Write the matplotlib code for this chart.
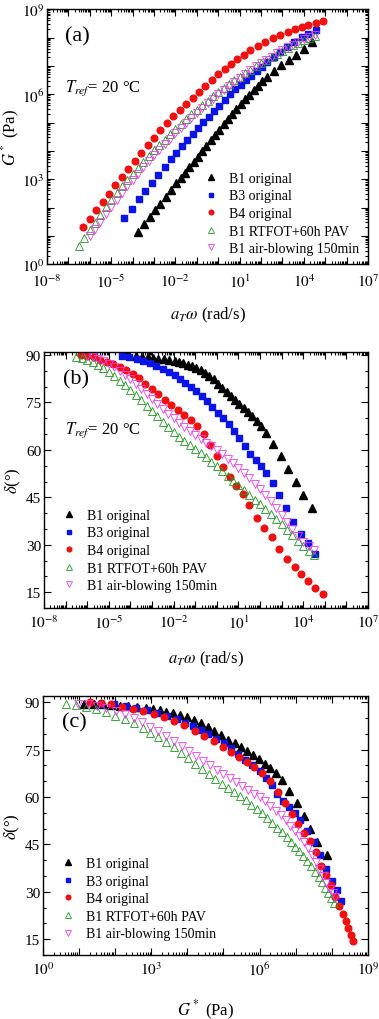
import numpy as np
import matplotlib
matplotlib.use("Agg")
import matplotlib.pyplot as plt
from matplotlib.ticker import LogLocator, FuncFormatter, MultipleLocator, NullFormatter

plt.rcParams["font.family"] = ["Liberation Serif", "DejaVu Serif"]
plt.rcParams["mathtext.fontset"] = "stix"

# data: log10(aT*omega), log10(G*), phase angle delta
b1_logw = [-3.73, -3.45, -3.2, -2.95, -2.7, -2.45, -2.2, -1.95, -1.75, -1.55, -1.35, -1.15,
           -0.95, -0.75, -0.55, -0.35, -0.15, 0.05, 0.25, 0.45, 0.65, 0.85, 1.05, 1.25,
           1.45, 1.65, 1.85, 2.05, 2.3, 2.6, 2.95, 3.3, 3.65, 4.0, 4.4]
b1_logg = [1.15, 1.42, 1.66, 1.90, 2.13, 2.37, 2.61, 2.85, 3.04, 3.23, 3.42, 3.61,
           3.80, 3.99, 4.18, 4.37, 4.56, 4.75, 4.94, 5.13, 5.31, 5.48, 5.65, 5.82,
           5.98, 6.14, 6.30, 6.45, 6.62, 6.82, 7.03, 7.22, 7.40, 7.60, 7.86]
b1_delta = [89.6, 89.5, 89.3, 89.1, 88.9, 88.7, 88.4, 88.1, 87.8, 87.4, 87.0, 86.5,
            85.9, 85.2, 84.4, 83.4, 82.3, 81.0, 79.6, 78.2, 77.0, 75.8, 74.5, 73.2,
            71.9, 70.6, 69.2, 67.6, 65.3, 62.0, 58.0, 54.0, 49.9, 45.8, 41.7]

b3_logw = [-4.4, -4.05, -3.7, -3.4, -3.1, -2.8, -2.5, -2.2, -1.95, -1.7, -1.45, -1.2,
           -0.95, -0.7, -0.45, -0.2, 0.05, 0.3, 0.55, 0.8, 1.05, 1.3, 1.55, 1.8,
           2.05, 2.3, 2.6, 2.9, 3.2, 3.55, 3.9, 4.2, 4.55]
b3_logg = [1.62, 1.96, 2.30, 2.59, 2.88, 3.16, 3.44, 3.72, 3.94, 4.16, 4.37, 4.58,
           4.80, 5.01, 5.21, 5.41, 5.60, 5.80, 6.00, 6.17, 6.33, 6.49, 6.65, 6.81,
           6.97, 7.13, 7.32, 7.50, 7.66, 7.85, 8.01, 8.13, 8.26]
b3_delta = [89.6, 89.3, 88.8, 88.2, 87.4, 86.6, 85.7, 84.6, 83.6, 82.5, 81.2, 79.9,
            78.5, 77.0, 75.4, 73.6, 71.8, 70.0, 68.1, 66.0, 63.7, 61.1, 58.8, 56.8,
            54.9, 52.6, 49.4, 45.8, 41.7, 37.2, 33.4, 30.5, 27.2]

b4_logw = [-6.3, -6.0, -5.7, -5.4, -5.1, -4.8, -4.5, -4.2, -3.9, -3.6, -3.3, -3.0,
           -2.7, -2.4, -2.1, -1.8, -1.5, -1.2, -0.9, -0.6, -0.3, 0.0, 0.3, 0.6,
           0.9, 1.2, 1.5, 1.85, 2.2, 2.55, 2.9, 3.25, 3.6, 3.9, 4.2, 4.55, 4.9]
b4_logg = [1.30, 1.60, 1.90, 2.19, 2.49, 2.78, 3.07, 3.35, 3.63, 3.92, 4.20, 4.47,
           4.73, 4.98, 5.22, 5.44, 5.65, 5.85, 6.07, 6.29, 6.50, 6.70, 6.89, 7.07,
           7.24, 7.40, 7.55, 7.70, 7.84, 7.97, 8.09, 8.20, 8.30, 8.38, 8.45, 8.52, 8.59]
b4_delta = [90.0, 89.8, 89.3, 88.6, 87.9, 87.1, 86.3, 85.2, 84.0, 82.7, 81.0, 79.3,
            77.6, 75.8, 74.2, 72.6, 71.0, 69.5, 67.6, 65.0, 61.5, 58.0, 54.6, 51.4,
            48.6, 46.0, 42.5, 38.3, 35.2, 32.3, 28.5, 25.5, 23.0, 20.8, 18.6, 16.4, 14.4]

rt_logw = [-6.5, -6.25, -6.0, -5.75, -5.5, -5.25, -5.0, -4.75, -4.5, -4.25, -4.0, -3.75,
           -3.5, -3.25, -3.0, -2.75, -2.5, -2.25, -2.0, -1.75, -1.5, -1.25, -1.0, -0.75,
           -0.5, -0.25, 0.0, 0.25, 0.5, 0.75, 1.0, 1.25, 1.5, 1.75, 2.0, 2.25,
           2.5, 2.75, 3.0, 3.25, 3.5, 3.75, 4.0, 4.25, 4.5]
rt_logg = [0.64, 0.92, 1.20, 1.47, 1.74, 2.01, 2.27, 2.52, 2.76, 2.98, 3.20, 3.41,
           3.62, 3.82, 4.02, 4.21, 4.40, 4.59, 4.77, 4.95, 5.12, 5.29, 5.45, 5.61,
           5.77, 5.92, 6.07, 6.21, 6.35, 6.49, 6.62, 6.75, 6.87, 6.99, 7.10, 7.21,
           7.32, 7.43, 7.53, 7.63, 7.72, 7.81, 7.90, 7.98, 8.06]
rt_delta = [89.3, 89.0, 88.5, 87.8, 86.9, 85.8, 84.6, 83.3, 81.9, 80.4, 78.9, 77.3,
            75.7, 74.0, 72.3, 70.6, 68.9, 67.2, 65.6, 64.2, 62.9, 61.6, 60.3, 59.0,
            57.6, 56.2, 54.8, 53.3, 51.8, 50.3, 48.8, 47.3, 45.8, 44.3, 42.8, 41.3,
            39.7, 38.1, 36.4, 34.7, 33.0, 31.3, 29.7, 28.1, 26.6]

ab_logw = [-6.0, -5.75, -5.5, -5.25, -5.0, -4.75, -4.5, -4.25, -4.0, -3.75, -3.5, -3.25,
           -3.0, -2.75, -2.5, -2.25, -2.0, -1.75, -1.5, -1.25, -1.0, -0.75, -0.5, -0.25,
           0.0, 0.25, 0.5, 0.75, 1.0, 1.25, 1.5, 1.75, 2.0, 2.25, 2.5, 2.75,
           3.0, 3.25, 3.5, 3.75, 4.0, 4.25, 4.5]
ab_logg = [0.98, 1.24, 1.50, 1.76, 2.02, 2.27, 2.52, 2.75, 2.98, 3.20, 3.42, 3.63,
           3.84, 4.04, 4.24, 4.43, 4.62, 4.81, 4.99, 5.17, 5.34, 5.51, 5.68, 5.84,
           6.00, 6.15, 6.30, 6.44, 6.58, 6.72, 6.85, 6.98, 7.10, 7.22, 7.33, 7.44,
           7.55, 7.65, 7.75, 7.85, 7.94, 8.02, 8.10]
ab_delta = [89.6, 89.3, 88.8, 88.1, 87.2, 86.2, 85.0, 83.7, 82.3, 80.9, 79.4, 77.8,
            76.2, 74.6, 73.0, 71.5, 70.0, 68.6, 67.2, 65.9, 64.7, 63.5, 62.3, 61.1,
            59.9, 58.6, 57.2, 55.7, 54.2, 52.6, 51.0, 49.3, 47.6, 45.8, 43.8, 41.7,
            39.5, 37.2, 34.9, 32.7, 30.9, 29.5, 28.4]

labels = ["B1 original", "B3 original", "B4 original", "B1 RTFOT+60h PAV", "B1 air-blowing 150min"]
series = [(b1_logw, b1_logg, b1_delta), (b3_logw, b3_logg, b3_delta), (b4_logw, b4_logg, b4_delta),
          (rt_logw, rt_logg, rt_delta), (ab_logw, ab_logg, ab_delta)]
styles = [
    dict(marker="^", color="black", mfc="black", ms=5.6),
    dict(marker="s", color="#0a14e6", mfc="#0a14e6", ms=4.8),
    dict(marker="o", color="#f01010", mfc="#f01010", ms=4.8),
    dict(marker="^", color="#1f9a1f", mfc="none", ms=5.6, mew=0.6),
    dict(marker="v", color="#f03cf0", mfc="none", ms=5.6, mew=0.6),
]

fig = plt.figure(figsize=(3.79, 10.2), dpi=100)
ax_a = fig.add_axes([0.124, 0.740, 0.847, 0.250])
ax_b = fig.add_axes([0.116, 0.403, 0.855, 0.251])
ax_c = fig.add_axes([0.113, 0.0627, 0.858, 0.254])


def every_third(offset):
    def fmt(v, pos):
        e = int(round(np.log10(v)))
        if (e - offset) % 3 == 0:
            return r"$10^{%d}$" % e
        return ""
    return FuncFormatter(fmt)


def log_axis(axis, offset):
    axis.set_major_locator(LogLocator(base=10, numticks=30))
    axis.set_major_formatter(every_third(offset))
    axis.set_minor_locator(LogLocator(base=10, subs=np.arange(2, 10), numticks=30))
    axis.set_minor_formatter(NullFormatter())


for ax in (ax_a, ax_b, ax_c):
    ax.tick_params(which="both", direction="in", top=True, right=True, labelsize=11, width=0.8)
    ax.tick_params(which="major", length=5)
    ax.tick_params(which="minor", length=2.5)
    ax.tick_params(axis="y", which="both", pad=2)
    ax.tick_params(axis="x", which="both", pad=4)
    for s in ax.spines.values():
        s.set_linewidth(1.0)

# keep 10^0 and 10^-8 in panel (a) from touching
ax_a.tick_params(axis="x", which="both", pad=6)

for (lw, lg, d), lab, st in zip(series, labels, styles):
    w = 10 ** np.array(lw)
    g = 10 ** np.array(lg)
    ax_a.plot(w, g, ls="none", label=lab, **st)
    ax_b.plot(w, d, ls="none", label=lab, **st)
    ax_c.plot(g, d, ls="none", label=lab, **st)

leg_kw = dict(frameon=False, fontsize=10, handlelength=1.0, handletextpad=0.8,
              labelspacing=0.33, markerscale=0.7)

# (a)
ax_a.set_xscale("log")
ax_a.set_yscale("log")
ax_a.set_xlim(1e-8, 1e7)
ax_a.set_ylim(1e0, 1e9)
log_axis(ax_a.xaxis, 1)
log_axis(ax_a.yaxis, 0)
ax_a.set_xlabel(r"$a_T\omega$ (rad/s)", fontsize=12, labelpad=11)
ax_a.set_ylabel(r"$G^*$ (Pa)", fontsize=12, labelpad=0)
ax_a.text(0.056, 0.895, "(a)", transform=ax_a.transAxes, fontsize=16, va="center")
ax_a.text(0.056, 0.694, r"$T_{ref}$= 20 °C", transform=ax_a.transAxes, fontsize=12, va="center")
ax_a.legend(loc="lower right", bbox_to_anchor=(1.0, 0.0), borderaxespad=0.25, **leg_kw)

# (b)
ax_b.set_xscale("log")
ax_b.set_xlim(1e-8, 1e7)
ax_b.set_ylim(10, 91)
log_axis(ax_b.xaxis, 1)
ax_b.yaxis.set_major_locator(MultipleLocator(15))
ax_b.yaxis.set_minor_locator(MultipleLocator(5))
ax_b.set_xlabel(r"$a_T\omega$ (rad/s)", fontsize=12, labelpad=13)
ax_b.set_ylabel(r"$\delta$(°)", fontsize=12, labelpad=2)
ax_b.text(0.059, 0.895, "(b)", transform=ax_b.transAxes, fontsize=16, va="center")
ax_b.text(0.065, 0.70, r"$T_{ref}$= 20 °C", transform=ax_b.transAxes, fontsize=12, va="center")
ax_b.legend(loc="lower left", bbox_to_anchor=(0.04, 0.04), borderaxespad=0.0, **leg_kw)

# (c)
ax_c.set_xscale("log")
ax_c.set_xlim(1e0, 1e9)
ax_c.set_ylim(10, 92)
log_axis(ax_c.xaxis, 0)
ax_c.yaxis.set_major_locator(MultipleLocator(15))
ax_c.yaxis.set_minor_locator(MultipleLocator(5))
ax_c.set_xlabel(r"$G^*$ (Pa)", fontsize=12, labelpad=14)
ax_c.set_ylabel(r"$\delta$(°)", fontsize=12, labelpad=2)
ax_c.text(0.058, 0.90, "(c)", transform=ax_c.transAxes, fontsize=16, va="center")
ax_c.legend(loc="lower left", bbox_to_anchor=(0.04, 0.035), borderaxespad=0.0, **leg_kw)

fig.savefig("out.png", dpi=100)
